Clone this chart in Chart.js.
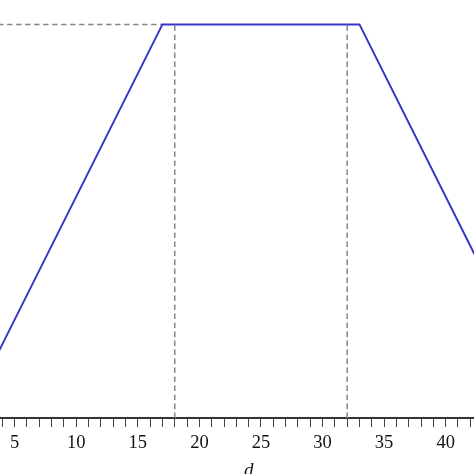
<!DOCTYPE html>
<html>
<head>
<meta charset="utf-8">
<script src="https://cdn.jsdelivr.net/npm/chart.js@4/dist/chart.umd.min.js"></script>
<style>
  html, body { margin: 0; padding: 0; background: #fff; }
  #box { width: 474px; height: 474px; }
</style>
</head>
<body>
<div id="box"><canvas id="chart"></canvas></div>
<script>
// corners of the trapezoid (d, level)
const dValues = [1, 17, 33, 49]
const levelValues = [0, 1, 1, 0]
// dashed guides
const plateauLevel = 1
const plateauStart = 17
const guideX = [18, 32]
// ticks on the d axis
const minorTicks = [4, 5, 6, 7, 8, 9, 10, 11, 12, 13, 14, 15, 16, 17, 18, 19, 20, 21, 22, 23,
  24, 25, 26, 27, 28, 29, 30, 31, 32, 33, 34, 35, 36, 37, 38, 39, 40, 41, 42]
const labelTicks = [5, 10, 15, 20, 25, 30, 35, 40]
const axisTitle = 'd'
const axisTitleAt = 24

const xMin = 3.81
const xMax = 42.3

let trapezoid = dValues.map((d, i) => ({x: d, y: levelValues[i]}))
let dashed = {
  borderColor: '#878787',
  borderWidth: 1.5,
  borderDash: [5.5, 3.5],
  pointRadius: 0,
  fill: false
}
let datasets = [{
  data: trapezoid,
  borderColor: '#3535c8',
  borderWidth: 2,
  pointRadius: 0,
  fill: false
}]
datasets.push(Object.assign({data: [{x: 0, y: plateauLevel}, {x: plateauStart, y: plateauLevel}]}, dashed))
guideX.forEach(g => {
  datasets.push(Object.assign({data: [{x: g, y: 0}, {x: g, y: plateauLevel}]}, dashed))
})

// titre de l'axe, placé sous la valeur d = 24
const titlePlugin = {
  id: 'dTitle',
  afterDraw(chart) {
    const ctx = chart.ctx
    const x = chart.scales.x.getPixelForValue(axisTitleAt)
    ctx.save()
    ctx.font = 'italic 19px "Liberation Serif"'
    ctx.fillStyle = '#111'
    ctx.textAlign = 'center'
    ctx.textBaseline = 'alphabetic'
    ctx.fillText(axisTitle, x, 476)
    ctx.restore()
  }
}

new Chart(document.getElementById('chart'), {
  type: 'line',
  data: {datasets: datasets},
  plugins: [titlePlugin],
  options: {
    responsive: true,
    maintainAspectRatio: false,
    animation: false,
    layout: {padding: 0},
    plugins: {legend: {display: false}, tooltip: {enabled: false}},
    scales: {
      x: {
        type: 'linear',
        min: xMin,
        max: xMax,
        afterBuildTicks: s => { s.ticks = minorTicks.map(v => ({value: v})) },
        afterFit: s => {
          s.height = 56
          s.paddingLeft = 0
          s.paddingRight = 0
        },
        grid: {drawOnChartArea: false, drawTicks: true, tickLength: 9, color: '#444', lineWidth: 1},
        border: {display: true, color: '#333', width: 2},
        ticks: {
          autoSkip: false,
          maxRotation: 0,
          padding: 5,
          color: '#111',
          font: {family: 'Liberation Serif', size: 18.5},
          callback: v => labelTicks.includes(v) ? String(v) : ''
        }
      },
      y: {
        type: 'linear',
        min: 0,
        max: 1.062,
        display: false
      }
    }
  }
})
</script>
</body>
</html>
